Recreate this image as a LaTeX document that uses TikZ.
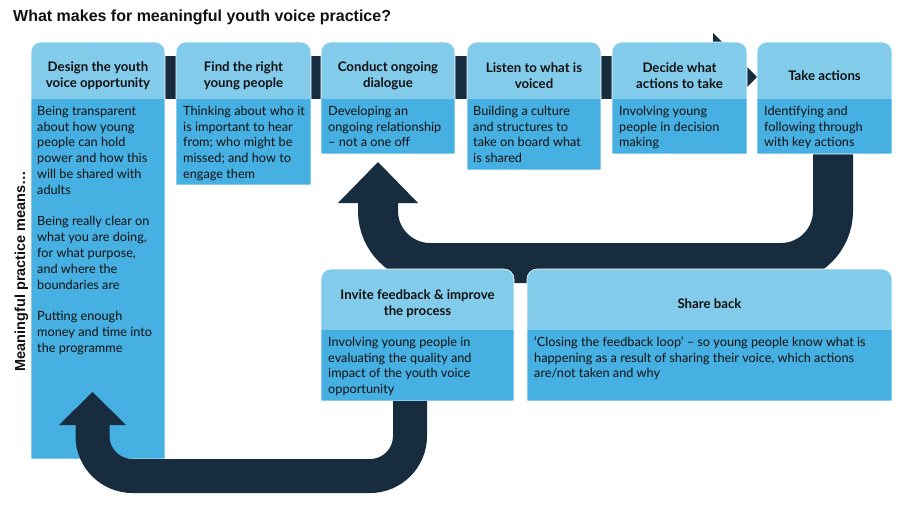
\documentclass[tikz,border=0pt]{standalone}
\usepackage{fontspec}
\setmainfont{Lato}
\newfontfamily\arialfont{Liberation Sans}
\definecolor{hdr}{HTML}{83CBEB}
\definecolor{bdy}{HTML}{45B0E1}
\definecolor{navy}{HTML}{172C3F}
\definecolor{ink}{HTML}{111111}
\newcommand{\ybox}[5]{%
  \fill[hdr] (#1,#4) [rounded corners=10] -- (#1,#3) -- (#2,#3) [sharp corners] -- (#2,#4) -- cycle;
  \fill[bdy] (#1,#4) rectangle (#2,#5);
  \draw[white,line width=0.6] (#1,#4) [rounded corners=10] -- (#1,#3) -- (#2,#3) [sharp corners] -- (#2,#5) -- (#1,#5) -- cycle;
}
\newcommand{\fst}{\rule{0pt}{10pt}}
\tikzset{
  bodytxt/.style={anchor=north west, inner sep=0, align=left, text=ink, font=\fontsize{12.7}{15.8}\selectfont},
  hdrtxt/.style={anchor=center, inner sep=0, align=center, text=ink, font=\bfseries\fontsize{13.2}{15.8}\selectfont},
  band/.style={draw=navy, line cap=butt},
}
\begin{document}
\begin{tikzpicture}[x=1pt,y=-1pt]
\useasboundingbox (0,0) rectangle (901,506);
\fill[white] (0,0) rectangle (901,506);
% top band with arrowhead
\fill[navy] (100,56) rectangle (714,99);
\fill[navy] (713,33) -- (757,77) -- (713,121) -- cycle;
% right U arrow
\draw[band, line width=40, rounded corners=52] (833,130) -- (833,263) -- (378,263) -- (378,202);
\fill[navy] (338,203) -- (378,162) -- (418,203) -- cycle;
% boxes
\ybox{31}{165}{42}{99}{459}
\ybox{176}{311}{42}{99}{185}
\ybox{321}{455}{42}{99}{154}
\ybox{467}{601}{42}{99}{170}
\ybox{612}{747}{42}{99}{154}
\ybox{757}{892}{42}{99}{154}
\ybox{321}{514}{269}{330}{401}
\ybox{527}{892}{269}{330}{401}
% bottom U arrow
\draw[band, line width=34, rounded corners=40] (410,401) -- (410,476) -- (92.5,476) -- (92.5,424);
\fill[navy] (59,425) -- (92.5,392) -- (126,425) -- cycle;
% title and side label
\node[anchor=base west, inner sep=0, text=ink, font=\arialfont\bfseries\fontsize{16}{18}\selectfont] (title) at (13,21) {What makes for meaningful youth voice practice?};
\node[rotate=90, anchor=base, inner sep=0, text=ink, font=\arialfont\bfseries\fontsize{14.5}{16}\selectfont] (side) at (25,271) {Meaningful practice means…};
% headers
\node[hdrtxt] (h1) at (98,76) {Design the youth\\voice opportunity};
\node[hdrtxt] (h2) at (243.5,76) {Find the right\\young people};
\node[hdrtxt] (h3) at (388,76) {Conduct ongoing\\dialogue};
\node[hdrtxt] (h4) at (534,76) {Listen to what is\\voiced};
\node[hdrtxt] (h5) at (679.5,76) {Decide what\\actions to take};
\node[hdrtxt] (h6) at (824.5,76) {Take actions};
\node[hdrtxt] (h7) at (417.5,304) {Invite feedback \& improve\\the process};
\node[hdrtxt] (h8) at (709.5,304) {Share back};
% bodies
\node[bodytxt] (t1) at (37,105) {\fst Being transparent\\about how young\\people can hold\\power and how this\\will be shared with\\adults\\[15.8pt]Being really clear on\\what you are doing,\\for what purpose,\\and where the\\boundaries are\\[15.8pt]Putting enough\\money and time into\\the programme};
\node[bodytxt] (t2) at (183,105) {\fst Thinking about who it\\is important to hear\\from; who might be\\missed; and how to\\engage them};
\node[bodytxt] (t3) at (328,105) {\fst Developing an\\ongoing relationship\\– not a one off};
\node[bodytxt] (t4) at (473,105) {\fst Building a culture\\and structures to\\take on board what\\is shared};
\node[bodytxt] (t5) at (619,105) {\fst Involving young\\people in decision\\making};
\node[bodytxt] (t6) at (764,105) {\fst Identifying and\\following through\\with key actions};
\node[bodytxt] (t7) at (328,336) {\fst Involving young people in\\evaluating the quality and\\impact of the youth voice\\opportunity};
\node[bodytxt] (t8) at (534,336) {\fst ‘Closing the feedback loop’ – so young people know what is\\happening as a result of sharing their voice, which actions\\are/not taken and why};
\end{tikzpicture}
\end{document}
